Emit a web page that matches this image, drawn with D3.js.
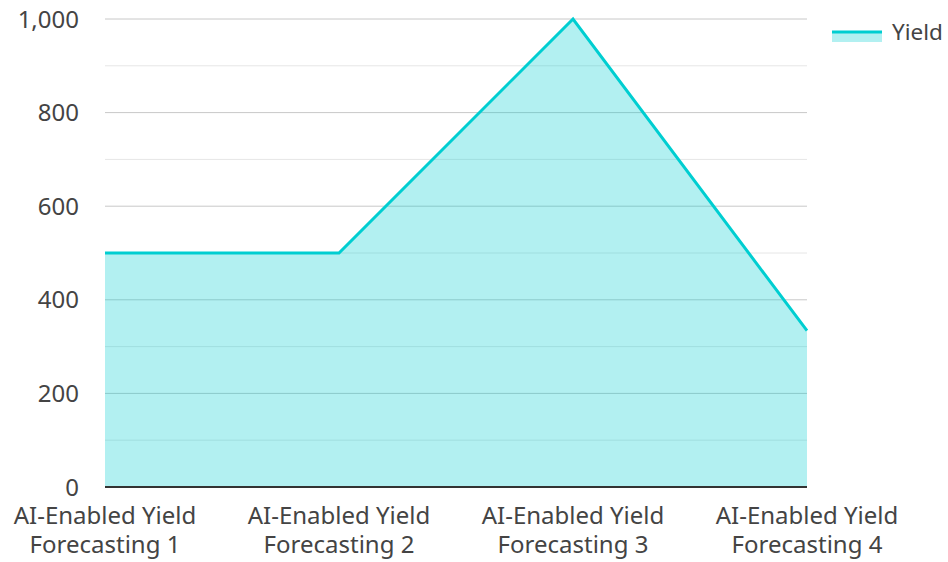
<!DOCTYPE html>
<html>
<head>
<meta charset="utf-8">
<script src="https://cdn.jsdelivr.net/npm/d3@7"></script>
<style>
  html, body { margin: 0; padding: 0; background: #fff; }
  svg { display: block; font-family: "Noto Sans", "Open Sans", sans-serif; }
</style>
</head>
<body>
<svg id="chart" width="948" height="562"></svg>
<script>
// Yield by forecasting stage
const categories = [
  "AI-Enabled Yield Forecasting 1",
  "AI-Enabled Yield Forecasting 2",
  "AI-Enabled Yield Forecasting 3",
  "AI-Enabled Yield Forecasting 4"
];
const yieldValues = [500, 500, 1000, 334];
const seriesName = "Yield";
const yTicks = [0, 200, 400, 600, 800, 1000];
const yMinorTicks = [100, 300, 500, 700, 900];

const svg = d3.select("#chart");
const margin = { left: 105, right: 141, top: 19, bottom: 75 };
const W = 948, H = 562;
const color = "#00ced1";
const tickFont = 24;
const labelFont = 24;
const legendFont = 22.5;

const x = d3.scalePoint().domain(categories).range([margin.left, W - margin.right]);
const y = d3.scaleLinear().domain([0, 1000]).range([H - margin.bottom, margin.top]);

// grid lines
svg.append("g").selectAll("line.minor").data(yMinorTicks).join("line")
  .attr("x1", margin.left).attr("x2", W - margin.right)
  .attr("y1", d => y(d)).attr("y2", d => y(d))
  .attr("stroke", "#e6e6e6").attr("stroke-width", 1);
svg.append("g").selectAll("line.major").data(yTicks.filter(d => d > 0)).join("line")
  .attr("x1", margin.left).attr("x2", W - margin.right)
  .attr("y1", d => y(d)).attr("y2", d => y(d))
  .attr("stroke", "#c8c8c8").attr("stroke-width", 1);

// area + line
const area = d3.area().x(d => x(d.c)).y0(y(0)).y1(d => y(d.v));
const line = d3.line().x(d => x(d.c)).y(d => y(d.v));
const pts = categories.map((c, i) => ({ c, v: yieldValues[i] }));

svg.append("path").datum(pts).attr("d", area)
  .attr("fill", color).attr("fill-opacity", 0.3);
svg.append("path").datum(pts).attr("d", line)
  .attr("fill", "none").attr("stroke", color).attr("stroke-width", 3)
  .attr("stroke-linejoin", "miter");

// baseline
svg.append("line")
  .attr("x1", margin.left).attr("x2", W - margin.right)
  .attr("y1", y(0)).attr("y2", y(0))
  .attr("stroke", "#333").attr("stroke-width", 2);

// y axis labels
const fmt = d3.format(",");
svg.append("g").selectAll("text").data(yTicks).join("text")
  .attr("x", 79).attr("y", d => y(d))
  .attr("dy", "0.36em")
  .attr("text-anchor", "end")
  .attr("font-size", tickFont).attr("fill", "#444")
  .text(d => fmt(d));

// x axis labels (two lines)
const xl = svg.append("g").selectAll("text").data(categories).join("text")
  .attr("x", d => x(d)).attr("y", 524)
  .attr("text-anchor", "middle")
  .attr("font-size", labelFont).attr("fill", "#444");
xl.each(function (d) {
  const words = d.split(" ");
  const l1 = words.slice(0, 2).join(" ");
  const l2 = words.slice(2).join(" ");
  const t = d3.select(this);
  t.append("tspan").attr("x", x(d)).attr("dy", 0).text(l1);
  t.append("tspan").attr("x", x(d)).attr("dy", 28.5).text(l2);
});

// legend
const lg = svg.append("g").attr("transform", "translate(832,32)");
lg.append("rect").attr("x", 0).attr("y", 0).attr("width", 50).attr("height", 10)
  .attr("fill", color).attr("fill-opacity", 0.3);
lg.append("line").attr("x1", 0).attr("x2", 50).attr("y1", 0).attr("y2", 0)
  .attr("stroke", color).attr("stroke-width", 3);
lg.append("text").attr("x", 60).attr("y", 0).attr("dy", "0.36em")
  .attr("font-size", legendFont).attr("fill", "#444").text(seriesName);
</script>
</body>
</html>
